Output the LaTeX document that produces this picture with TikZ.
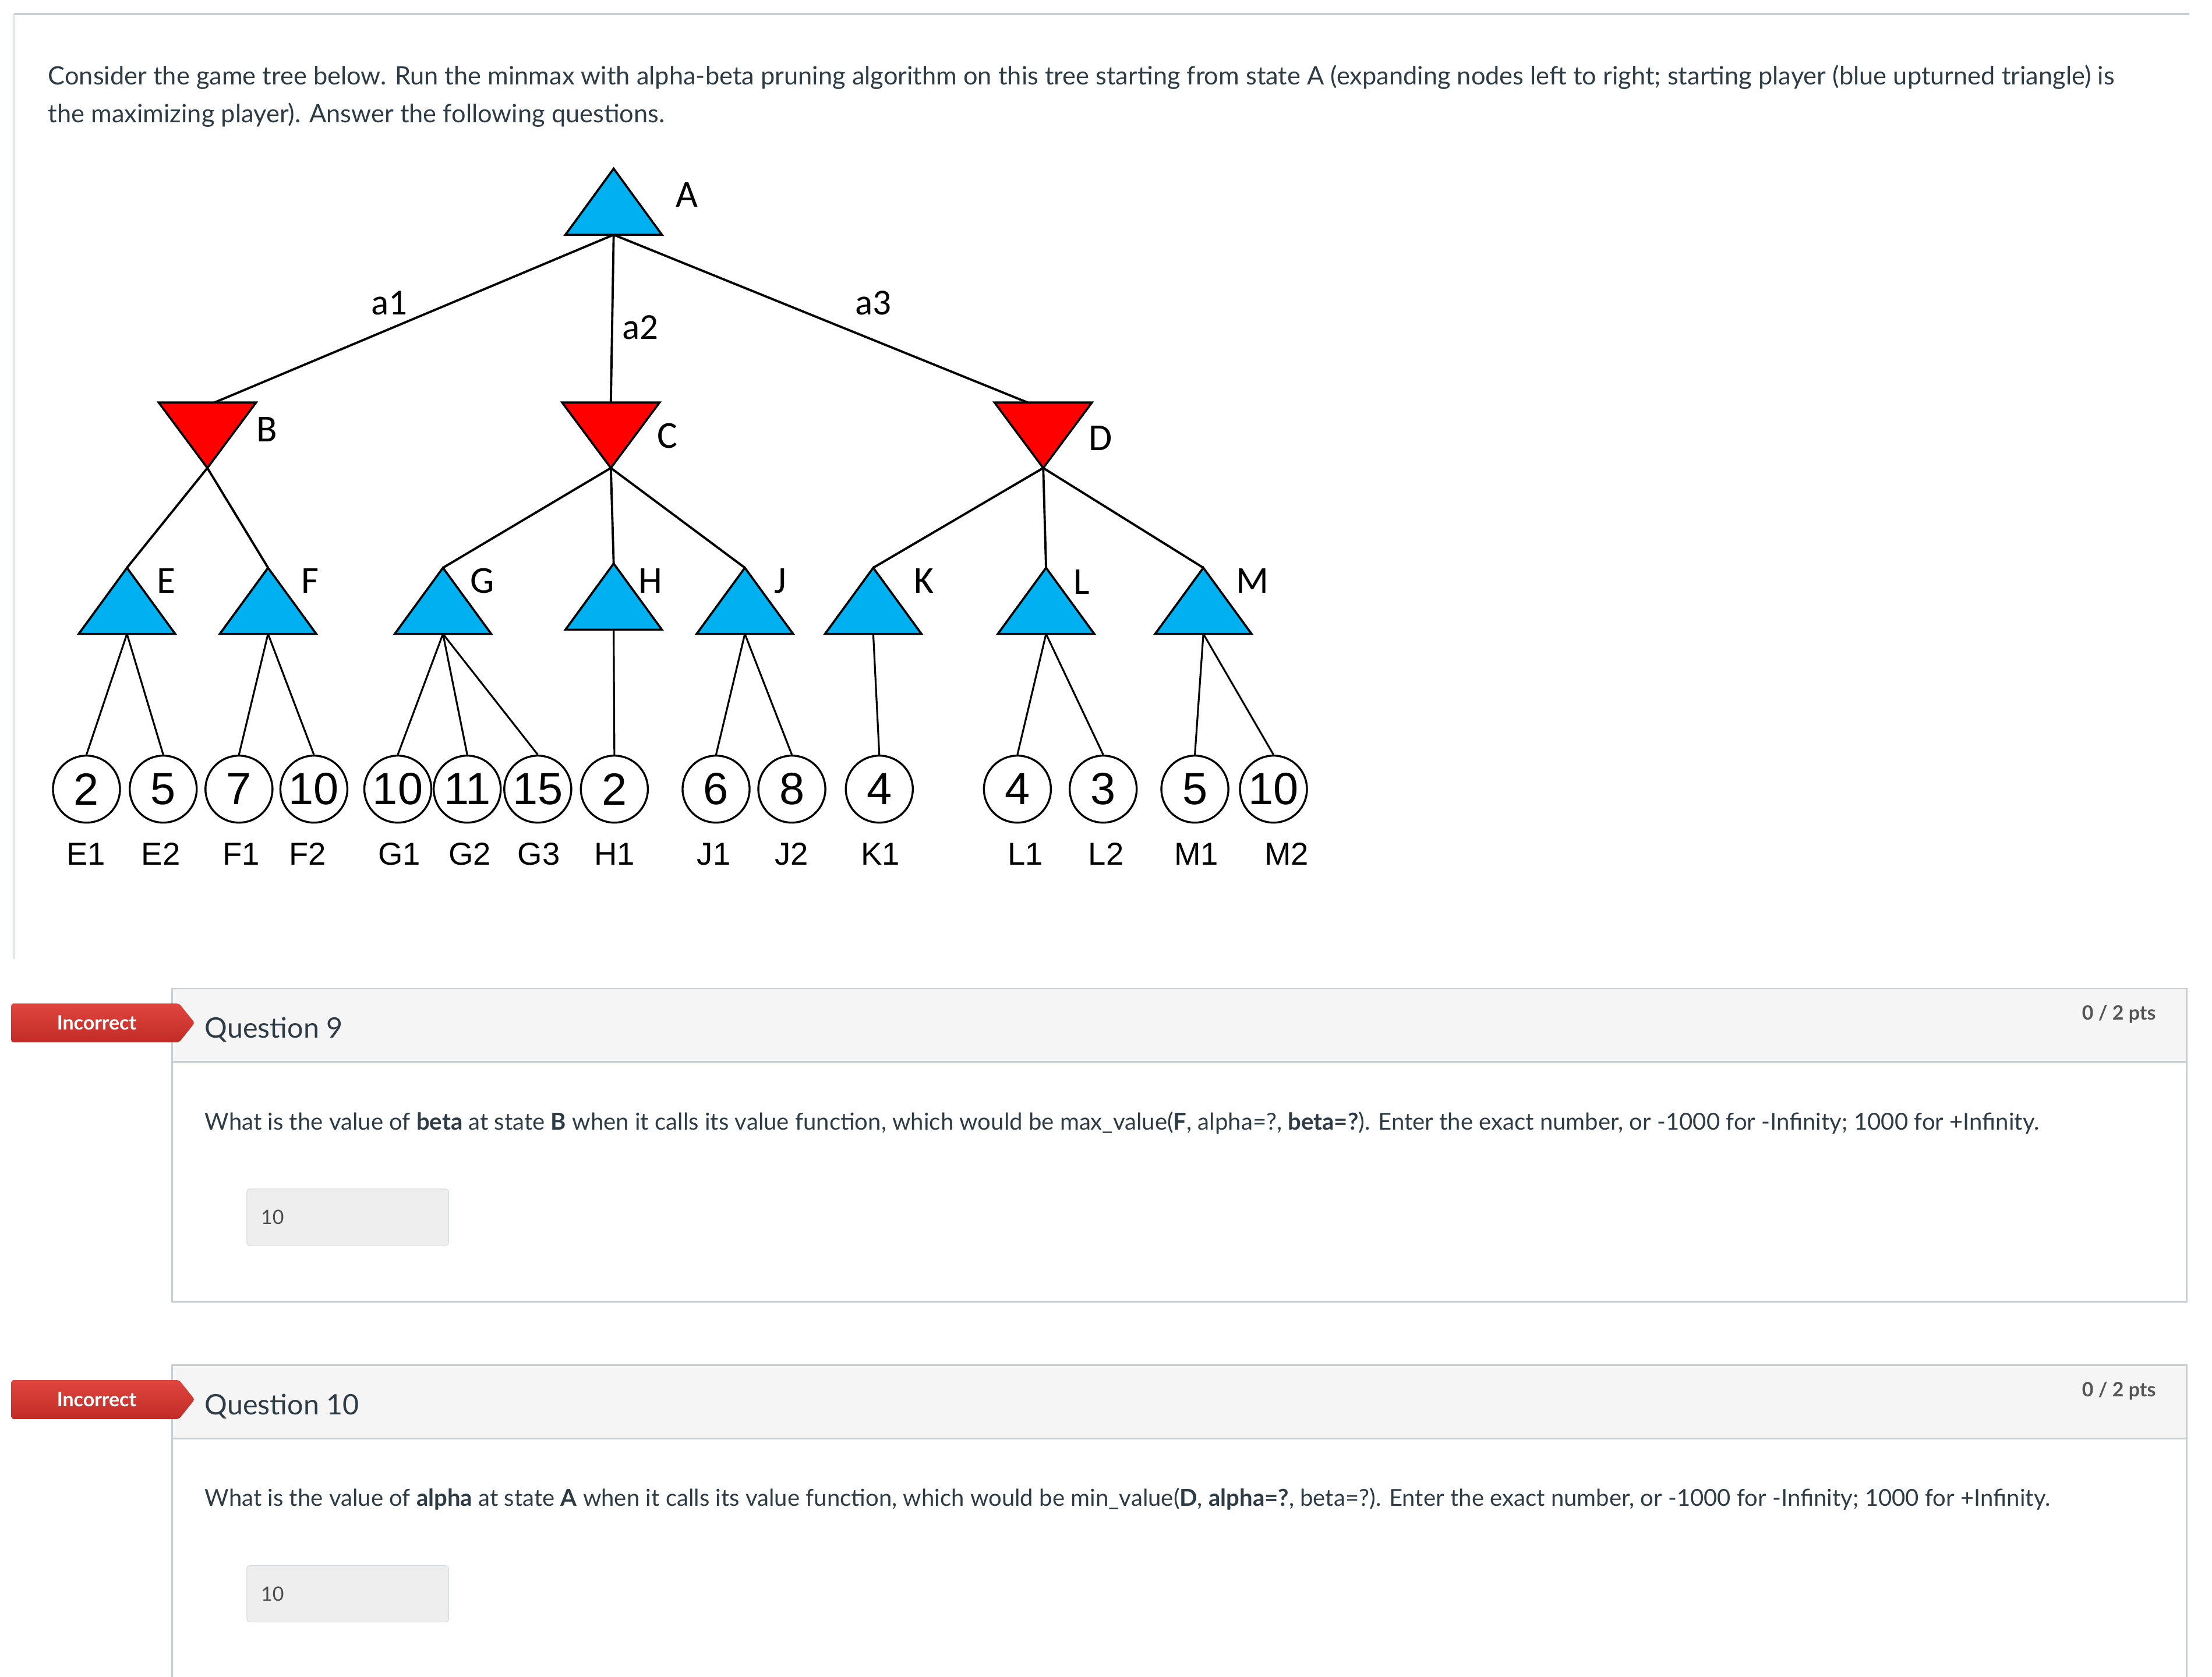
\documentclass[tikz,border=0pt]{standalone}
\usepackage{fontspec}
\setmainfont{Lato}
\newfontfamily\treefont{Carlito}
\newfontfamily\leaffont{Liberation Sans}
\usetikzlibrary{positioning, shapes}

\definecolor{maxblue}{HTML}{00B0F0}
\definecolor{minred}{HTML}{FF0000}
\definecolor{canvastext}{HTML}{2D3B45}
\definecolor{hdrgrey}{HTML}{F5F5F5}
\definecolor{rulegrey}{HTML}{C7CDD1}
\definecolor{tagtop}{HTML}{E0453E}
\definecolor{tagbot}{HTML}{C22C27}
\definecolor{ptsgrey}{HTML}{555555}
\definecolor{boxgrey}{HTML}{EEEEEE}

\begin{document}
\begin{tikzpicture}[
    x=1pt, y=-1pt,
    every node/.style={inner sep=0pt},
    maxnode/.style={minimum width=68pt, minimum height=46.5pt},
    minnode/.style={minimum width=68.6pt, minimum height=46pt},
    maxtri/.style={fill=maxblue, draw=black, line width=1.5pt},
    mintri/.style={fill=minred, draw=black, line width=1.5pt},
    edge/.style={line width=1.6pt},
    leafedge/.style={line width=1.3pt},
    leaf/.style={circle, draw, fill=white, line width=1.4pt, minimum size=47.5pt,
      font=\leaffont\fontsize{32}{32}\selectfont},
    leaflabel/.style={font=\leaffont\fontsize{22.5}{22.5}\selectfont},
    statelabel/.style={font=\treefont\fontsize{27}{27}\selectfont},
    actlabel/.style={font=\treefont\fontsize{26}{26}\selectfont},
    introtext/.style={anchor=base west, text=canvastext, font=\fontsize{17.9}{21}\selectfont},
    qtext/.style={anchor=base west, text=canvastext, font=\fontsize{16.55}{19}\selectfont},
    qtitle/.style={anchor=base west, text=canvastext, font=\fontsize{20}{24}\selectfont},
    tagtext/.style={text=white, font=\bfseries\fontsize{14}{16}\selectfont},
    pts/.style={text=ptsgrey, font=\bfseries\fontsize{14}{16}\selectfont},
    answerbox/.style={fill=boxgrey, draw=rulegrey!80, rounded corners=2pt,
      minimum width=143pt, minimum height=40pt},
    answer/.style={text=black!70, font=\fontsize{14}{16}\selectfont}
  ]
  \useasboundingbox (0,0) rectangle (1568,1189);
  \fill[white] (0,0) rectangle (1568,1189);

  % frame round the question text
  \draw[rulegrey, line width=1.6pt] (10,10) -- (1552,10);
  \draw[rulegrey!70, line width=0.8pt] (10,10) -- (10,680);

  \node[introtext] (intro1) at (34,60) {Consider the game tree below. Run the minmax with alpha-beta pruning algorithm on this tree starting from state A (expanding nodes left to right; starting player (blue upturned triangle) is};
  \node[introtext] (intro2) at (34,86.8) {the maximizing player). Answer the following questions.};

  % states
  \node[maxnode] (A) at (435,143) {};
  \node[minnode] (B) at (147,308.6) {};
  \node[minnode] (C) at (433,308.6) {};
  \node[minnode] (D) at (739.5,308.6) {};
  \node[maxnode] (E) at (90,426) {};
  \node[maxnode] (F) at (190,426) {};
  \node[maxnode] (G) at (314,426) {};
  \node[maxnode] (H) at (435,423) {};
  \node[maxnode] (J) at (528,426) {};
  \node[maxnode] (K) at (619,426) {};
  \node[maxnode] (L) at (741.5,426) {};
  \node[maxnode] (M) at (853,426) {};

  % leaves
  \foreach \nm/\x/\val/\lx in {E1/61.3/2/61, E2/115.7/5/114, F1/169.4/7/171, F2/222.5/10/218,
      G1/282/10/283, G2/331.2/11/333, G3/381.2/15/382, H1/435.5/2/435.5,
      J1/507.6/6/506, J2/561.3/8/561, K1/623.3/4/624, L1/721.2/4/727,
      L2/782/3/784, M1/847/5/848, M2/902.7/10/912} {
    \node[leaf] (\nm) at (\x,559.5) {\val};
    \node[leaflabel] (\nm-lbl) at (\lx,605.5) {\nm};
  }

  % edges
  \draw[edge] (A.south) -- ([xshift=5pt]B.north);
  \draw[edge] (A.south) -- (C.north);
  \draw[edge] (A.south) -- ([xshift=-11pt]D.north);
  \foreach \p/\c in {B/E, B/F, C/G, C/H, C/J, D/K, D/L, D/M}
    \draw[edge] (\p.south) -- (\c.north);
  \foreach \p/\c in {E/E1, E/E2, F/F1, F/F2, G/G1, G/G2, G/G3, H/H1,
      J/J1, J/J2, K/K1, L/L1, L/L2, M/M1, M/M2}
    \draw[leafedge] (\p.south) -- (\c.north);

  % triangles
  \foreach \n in {A,E,F,G,H,J,K,L,M}
    \draw[maxtri] (\n.north) -- (\n.south east) -- (\n.south west) -- cycle;
  \foreach \n in {B,C,D}
    \draw[mintri] (\n.north west) -- (\n.north east) -- (\n.south) -- cycle;

  % state and action labels
  \foreach \n/\x/\y in {A/487/138, B/189/304.5, C/473/309, D/780/310.7,
      E/118/412, F/220/412, G/342/412, H/461/412, J/553/412,
      K/655/412, L/766.6/412.7, M/888/412}
    \node[statelabel] (\n-lbl) at (\x,\y) {\n};
  \node[actlabel] (a1) at (276,215) {a1};
  \node[actlabel] (a2) at (454,232) {a2};
  \node[actlabel] (a3) at (619,215) {a3};

  % question 9
  \fill[hdrgrey] (122,701) rectangle (1550,753);
  \draw[rulegrey, line width=1.2pt] (122,701) rectangle (1550,923);
  \draw[rulegrey, line width=1.2pt] (122,753) -- (1550,753);
  \shade[top color=tagtop, bottom color=tagbot, rounded corners=1.5pt]
    (8,711.5) -- (127,711.5) -- (138,725.2) -- (127,739) -- (8,739) -- cycle;
  \node[tagtext] (tag9) at (68.5,725.2) {Incorrect};
  \node[qtitle] (title9) at (145,736) {Question 9};
  \node[pts] (pts9) at (1502,719) {0 / 2 pts};
  \node[qtext] (text9) at (145,801) {What is the value of \textbf{beta} at state \textbf{B} when it calls its value function, which would be max\_value(\textbf{F}, alpha=?, \textbf{beta=?}). Enter the exact number, or -1000 for -Infinity; 1000 for +Infinity.};
  \node[answerbox] (ans9) at (246.5,863) {};
  \node[answer, right=10pt of ans9.west] (val9) {10};

  % question 10
  \fill[hdrgrey] (122,968) rectangle (1550,1020);
  \draw[rulegrey, line width=1.2pt] (122,1189) -- (122,968) -- (1550,968) -- (1550,1189);
  \draw[rulegrey, line width=1.2pt] (122,1020) -- (1550,1020);
  \shade[top color=tagtop, bottom color=tagbot, rounded corners=1.5pt]
    (8,978.5) -- (127,978.5) -- (138,992.2) -- (127,1006) -- (8,1006) -- cycle;
  \node[tagtext] (tag10) at (68.5,992.2) {Incorrect};
  \node[qtitle] (title10) at (145,1003) {Question 10};
  \node[pts] (pts10) at (1502,986) {0 / 2 pts};
  \node[qtext] (text10) at (145,1068) {What is the value of \textbf{alpha} at state \textbf{A} when it calls its value function, which would be min\_value(\textbf{D}, \textbf{alpha=?}, beta=?). Enter the exact number, or -1000 for -Infinity; 1000 for +Infinity.};
  \node[answerbox] (ans10) at (246.5,1130) {};
  \node[answer, right=10pt of ans10.west] (val10) {10};
\end{tikzpicture}
\end{document}
